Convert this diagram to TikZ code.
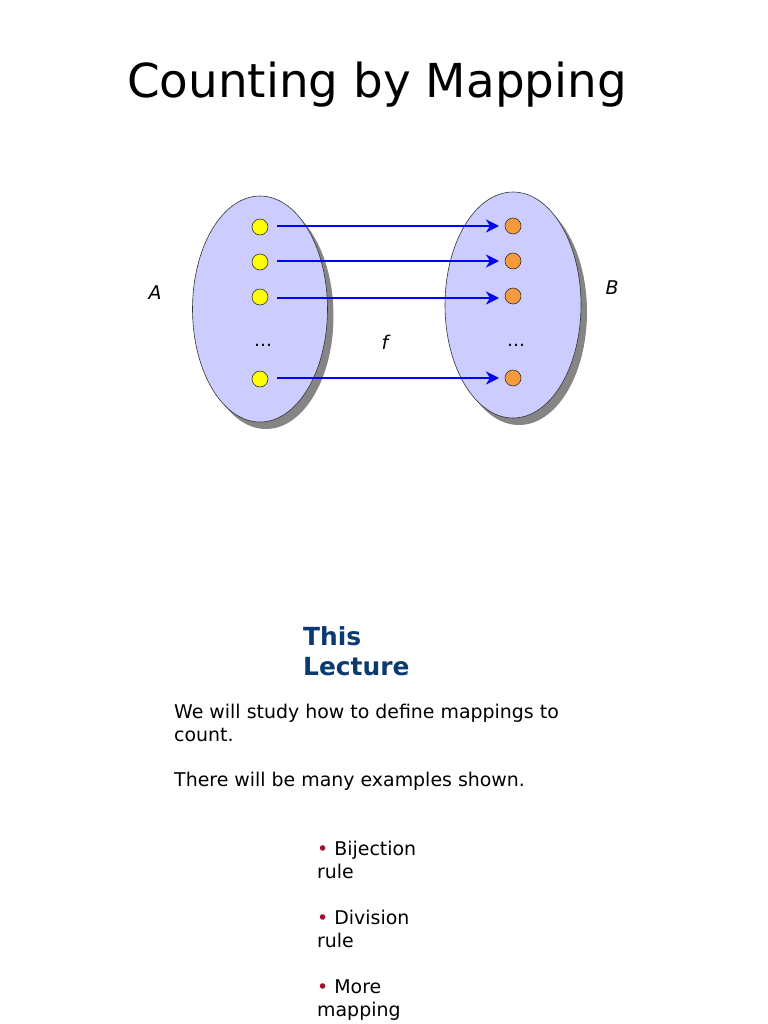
\documentclass[tikz,border=0pt]{standalone}
\usepackage{fontspec}
\setmainfont{DejaVu Sans}
\usetikzlibrary{arrows.meta}
\definecolor{setfill}{HTML}{CCCCFF}
\definecolor{shadowc}{HTML}{858585}
\definecolor{ptA}{HTML}{FFFF00}
\definecolor{ptB}{HTML}{F39A3E}
\definecolor{headblue}{HTML}{0B3A70}
\definecolor{bulletred}{HTML}{A0102E}
\tikzset{
  setshape/.style={draw=black!80, line width=0.6bp, fill=setfill},
  setshadow/.style={fill=shadowc, draw=none},
  ptAstyle/.style={circle, draw=black!80, line width=0.6bp, fill=ptA, minimum size=16bp, inner sep=0pt},
  ptBstyle/.style={circle, draw=black!80, line width=0.6bp, fill=ptB, minimum size=16bp, inner sep=0pt},
  maparrow/.style={draw=blue, line width=2.8bp, -{Stealth[length=13bp,width=13bp,inset=4bp]}},
  lbl/.style={font=\fontsize{19}{23}\selectfont\itshape, inner sep=0pt},
  body/.style={font=\fontsize{19}{23}\selectfont, anchor=base west, inner sep=0pt},
}
\begin{document}
\begin{tikzpicture}[x=1bp,y=-1bp]
\useasboundingbox (0,0) rectangle (768,1024);
% title
\node[font=\fontsize{47}{56}\selectfont, anchor=base, inner sep=0pt] (title) at (377,97) {Counting by Mapping};
% sets
\fill[setshadow] (266,316) ellipse [x radius=67.5, y radius=113];
\draw[setshape] (260,309) ellipse [x radius=67.5, y radius=113];
\fill[setshadow] (519,312) ellipse [x radius=68, y radius=113];
\draw[setshape] (513,305) ellipse [x radius=68, y radius=113];
% points
\node[ptAstyle] (a1) at (260,227) {};
\node[ptAstyle] (a2) at (260,262) {};
\node[ptAstyle] (a3) at (260,297) {};
\node[ptAstyle] (a4) at (260,379) {};
\node[ptBstyle] (b1) at (513,226) {};
\node[ptBstyle] (b2) at (513,261) {};
\node[ptBstyle] (b3) at (513,296) {};
\node[ptBstyle] (b4) at (513,378) {};
\node[font=\fontsize{18}{20}\selectfont, inner sep=0pt] (dA) at (263,345) {\dots};
\node[font=\fontsize{18}{20}\selectfont, inner sep=0pt] (dB) at (516,345) {\dots};
% arrows
\coordinate (s1) at (277,226); \coordinate (e1) at (499,226);
\coordinate (s2) at (277,261); \coordinate (e2) at (499,261);
\coordinate (s3) at (277,298); \coordinate (e3) at (499,298);
\coordinate (s4) at (277,378); \coordinate (e4) at (499,378);
\draw[maparrow] (s1) -- (e1);
\draw[maparrow] (s2) -- (e2);
\draw[maparrow] (s3) -- (e3);
\draw[maparrow] (s4) -- (e4);
% labels
\node[lbl] (lA) at (155,293) {A};
\node[lbl] (lB) at (612,288) {B};
\node[lbl] (lf) at (385,342) {f};
% lecture text
\node[body, font=\fontsize{25}{30}\selectfont\bfseries, text=headblue] (head1) at (303,645) {This};
\node[body, font=\fontsize{25}{30}\selectfont\bfseries, text=headblue] (head2) at (303,675) {Lecture};
\node[body] (p1a) at (174,718) {We will study how to define mappings to};
\node[body] (p1b) at (174,741) {count.};
\node[body] (p2) at (174,786) {There will be many examples shown.};
\node[body] (i1a) at (317,855) {{\color{bulletred}\textbullet} Bijection};
\node[body] (i1b) at (317,878) {rule};
\node[body] (i2a) at (317,924) {{\color{bulletred}\textbullet} Division};
\node[body] (i2b) at (317,947) {rule};
\node[body] (i3a) at (317,993) {{\color{bulletred}\textbullet} More};
\node[body] (i3b) at (317,1016) {mapping};
\end{tikzpicture}
\end{document}
